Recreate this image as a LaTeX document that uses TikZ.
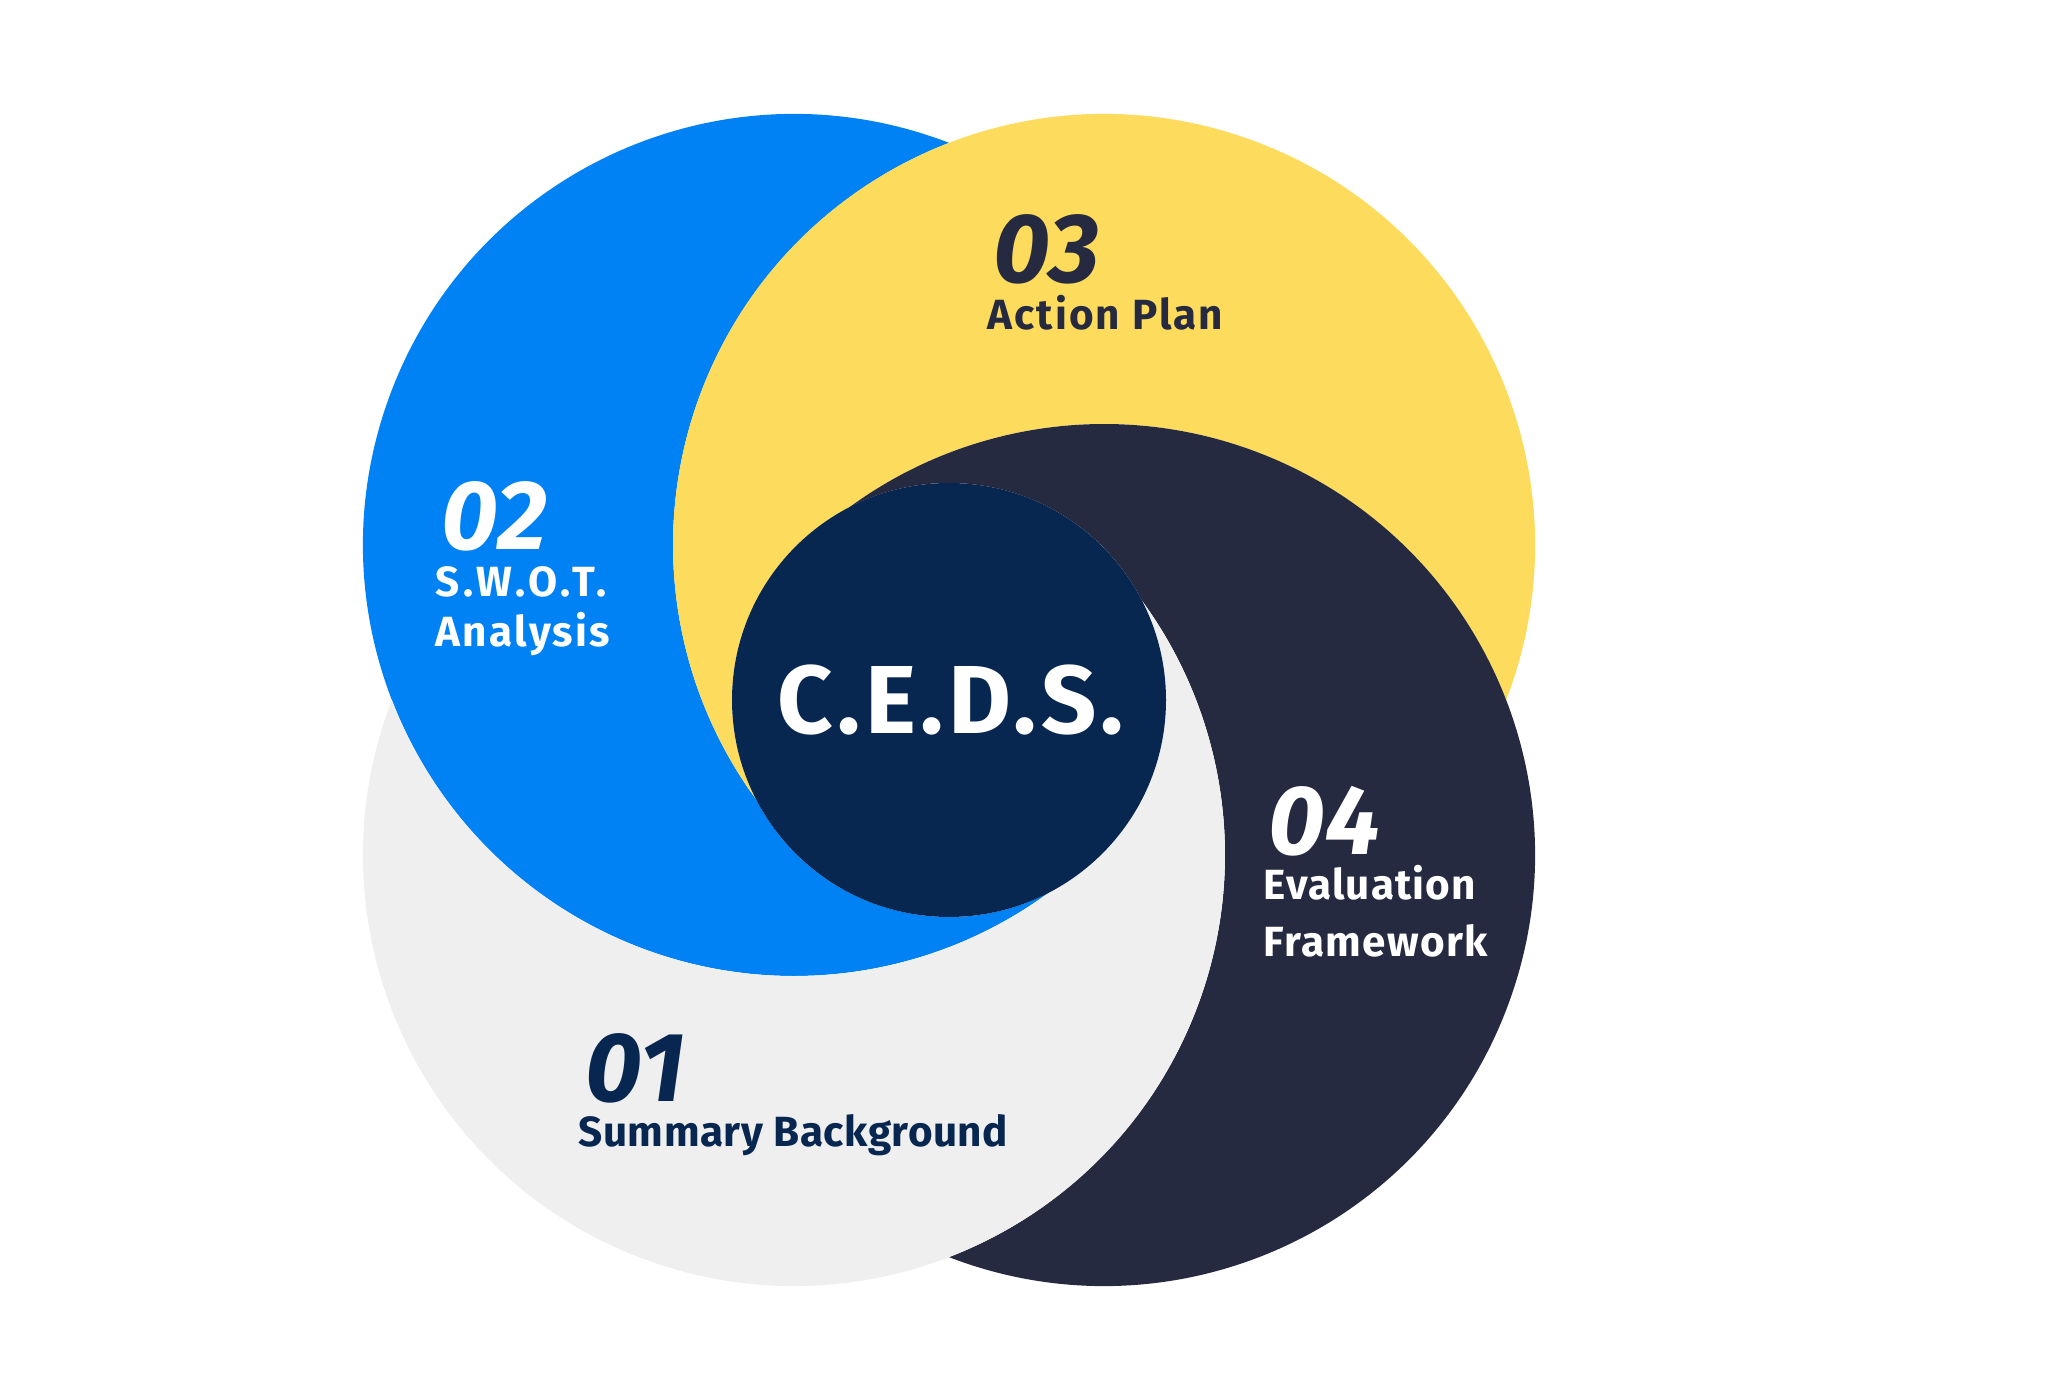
\documentclass[tikz,border=0pt]{standalone}
\usepackage{fontspec}
\setmainfont{Fira Sans}
\usetikzlibrary{calc}

\definecolor{cedsgrey}{HTML}{EFEFEF}
\definecolor{cedsblue}{HTML}{0082F5}
\definecolor{cedsyellow}{HTML}{FDDB5C}
\definecolor{cedsnavy}{HTML}{252A40}
\definecolor{cedscore}{HTML}{072650}

\begin{document}
\begin{tikzpicture}[
    x=0.01cm,
    y=0.01cm,
    itemnum/.style={anchor=base west, inner sep=0pt, font=\fontsize{28}{28}\selectfont\bfseries\itshape},
    itemtext/.style={anchor=base west, inner sep=0pt, font=\fontsize{12}{14}\selectfont\bfseries\addfontfeature{LetterSpace=#1}},
    itemtext/.default=3,
]

    \useasboundingbox[fill=white] (0,0) rectangle (2048,1400);

    \coordinate (C) at (949,700);

    % one crescent, turned a quarter round the centre for each part
    \foreach \ang/\col in {0/cedsblue, -90/cedsyellow, -180/cedsnavy, -270/cedsgrey}{
        \begin{scope}[rotate around={\ang:(C)}]
            \fill[\col] ($(794,855)+(68.92:431)$)
                arc[start angle=68.92, end angle=306.19, radius=431]
                arc[start angle=-62.70, end angle=-152.70, radius=217]
                arc[start angle=216.19, end angle=111.08, radius=431]
                -- cycle;
        \end{scope}
    }

    \fill[cedscore] (C) circle[radius=217];

    \node[text=white, font=\fontsize{27.5}{30}\selectfont\bfseries\addfontfeature{LetterSpace=4.5}] (ceds) at (951,700) {C.E.D.S.};

    \node[itemnum,  text=white]    (n02)   at (441,850)  {02};
    \node[itemtext=9.5, text=white]    (swot)  at (435,803)  {S.W.O.T.};
    \node[itemtext=5.5, text=white]    (anal)  at (435,753)  {Analysis};

    \node[itemnum,  text=cedsnavy] (n03)   at (993,1117) {03};
    \node[itemtext=4.8, text=cedsnavy] (plan)  at (987,1070) {Action Plan};

    \node[itemnum,  text=white]    (n04)   at (1268,545) {04};
    \node[itemtext=2.8, text=white]    (eval)  at (1263,500) {Evaluation};
    \node[itemtext=3.4, text=white]    (frame) at (1263,443) {Framework};

    \node[itemnum,  text=cedscore] (n01)   at (585,298)  {01};
    \node[itemtext=1.2, text=cedscore] (summ)  at (578,253)  {Summary Background};
\end{tikzpicture}
\end{document}
